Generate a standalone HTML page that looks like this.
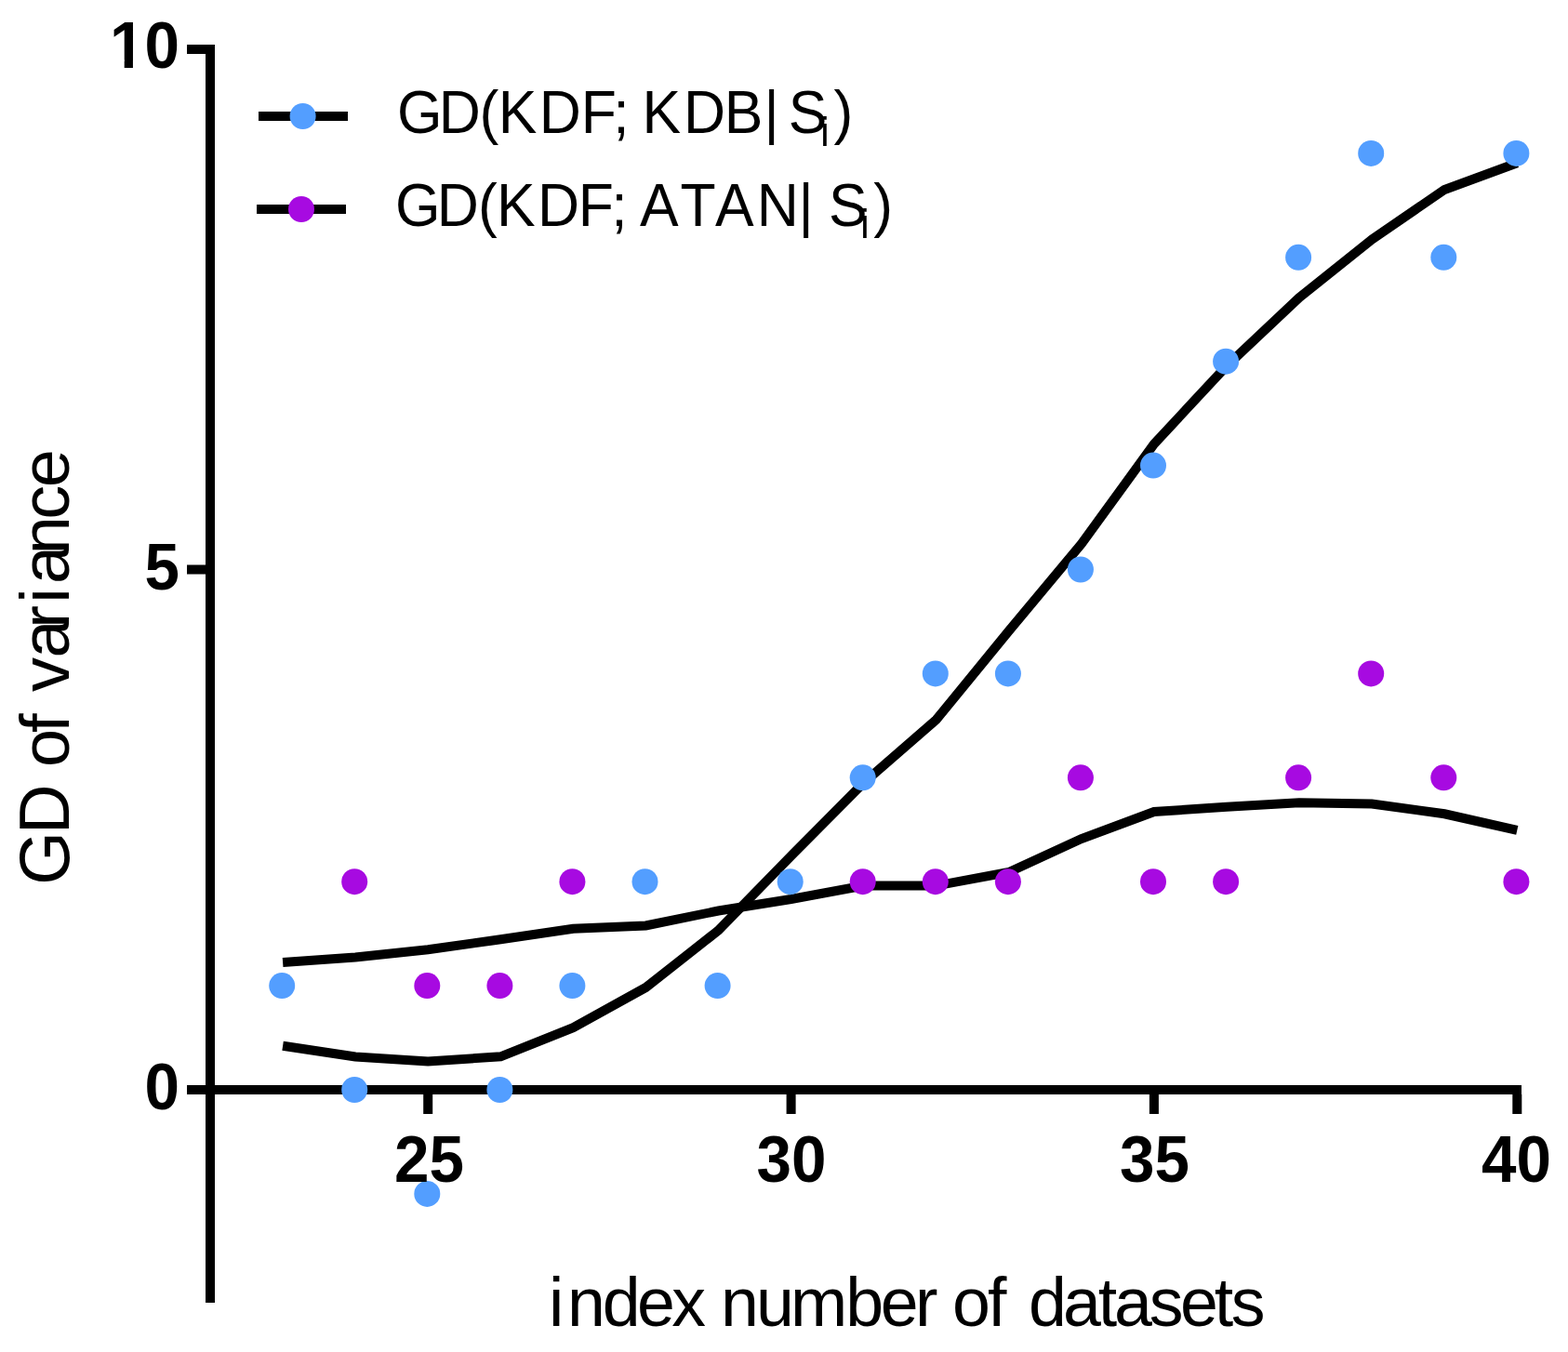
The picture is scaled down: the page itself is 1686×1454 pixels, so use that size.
<!DOCTYPE html>
<html><head><meta charset="utf-8"><title>GD of variance</title>
<style>html,body{margin:0;padding:0;background:#fff;}svg{display:block;}</style></head>
<body><svg width="1686" height="1454" viewBox="0 0 1686 1454">
<rect width="1686" height="1454" fill="#fff"/>
<polyline points="304.1,1124.8 382.1,1136.5 460.2,1141.6 538.3,1136.3 616.3,1105.2 694.4,1062.0 772.5,1000.5 850.6,920.4 928.6,842.0 1006.7,774.0 1084.8,678.5 1162.8,585.0 1240.9,477.5 1319.0,393.5 1397.0,320.0 1475.1,257.6 1553.2,204.0 1631.3,175.3" fill="none" stroke="#000" stroke-width="10" stroke-linejoin="miter"/>
<polyline points="304.1,1035.0 382.1,1029.4 460.2,1021.3 538.3,1010.3 616.3,998.8 694.4,995.4 772.5,979.5 850.6,967.0 928.6,952.5 1006.7,952.5 1084.8,938.0 1162.8,902.0 1240.9,873.0 1319.0,867.8 1397.0,863.3 1475.1,864.6 1553.2,875.3 1631.3,892.8" fill="none" stroke="#000" stroke-width="10" stroke-linejoin="miter"/>
<rect x="221" y="48" width="10" height="1353" fill="#000"/>
<rect x="221" y="1167" width="1415" height="10" fill="#000"/>
<rect x="201" y="48.0" width="20" height="10" fill="#000"/>
<rect x="201" y="607.5" width="20" height="10" fill="#000"/>
<rect x="201" y="1167.0" width="20" height="10" fill="#000"/>
<rect x="455.2" y="1177" width="10" height="21" fill="#000"/>
<rect x="845.6" y="1177" width="10" height="21" fill="#000"/>
<rect x="1235.9" y="1177" width="10" height="21" fill="#000"/>
<rect x="1626.3" y="1177" width="10" height="21" fill="#000"/>
<circle cx="381.2" cy="948.2" r="14" fill="#A70AE1"/>
<circle cx="459.3" cy="1060.1" r="14" fill="#A70AE1"/>
<circle cx="537.4" cy="1060.1" r="14" fill="#A70AE1"/>
<circle cx="615.4" cy="948.2" r="14" fill="#A70AE1"/>
<circle cx="927.7" cy="948.2" r="14" fill="#A70AE1"/>
<circle cx="1005.8" cy="948.2" r="14" fill="#A70AE1"/>
<circle cx="1083.9" cy="948.2" r="14" fill="#A70AE1"/>
<circle cx="1161.9" cy="836.3" r="14" fill="#A70AE1"/>
<circle cx="1240.0" cy="948.2" r="14" fill="#A70AE1"/>
<circle cx="1318.1" cy="948.2" r="14" fill="#A70AE1"/>
<circle cx="1396.1" cy="836.3" r="14" fill="#A70AE1"/>
<circle cx="1474.2" cy="724.4" r="14" fill="#A70AE1"/>
<circle cx="1552.3" cy="836.3" r="14" fill="#A70AE1"/>
<circle cx="1630.4" cy="948.2" r="14" fill="#A70AE1"/>
<circle cx="303.2" cy="1060.1" r="14" fill="#539EFF"/>
<circle cx="381.2" cy="1172.0" r="14" fill="#539EFF"/>
<circle cx="459.3" cy="1283.9" r="14" fill="#539EFF"/>
<circle cx="537.4" cy="1172.0" r="14" fill="#539EFF"/>
<circle cx="615.4" cy="1060.1" r="14" fill="#539EFF"/>
<circle cx="693.5" cy="948.2" r="14" fill="#539EFF"/>
<circle cx="771.6" cy="1060.1" r="14" fill="#539EFF"/>
<circle cx="849.7" cy="948.2" r="14" fill="#539EFF"/>
<circle cx="927.7" cy="836.3" r="14" fill="#539EFF"/>
<circle cx="1005.8" cy="724.4" r="14" fill="#539EFF"/>
<circle cx="1083.9" cy="724.4" r="14" fill="#539EFF"/>
<circle cx="1161.9" cy="612.5" r="14" fill="#539EFF"/>
<circle cx="1240.0" cy="500.6" r="14" fill="#539EFF"/>
<circle cx="1318.1" cy="388.7" r="14" fill="#539EFF"/>
<circle cx="1396.1" cy="276.8" r="14" fill="#539EFF"/>
<circle cx="1474.2" cy="164.9" r="14" fill="#539EFF"/>
<circle cx="1552.3" cy="276.8" r="14" fill="#539EFF"/>
<circle cx="1630.4" cy="164.9" r="14" fill="#539EFF"/>
<rect x="278" y="120" width="96" height="10" fill="#000"/>
<circle cx="325.6" cy="125" r="14" fill="#539EFF"/>
<rect x="276" y="220" width="96" height="10" fill="#000"/>
<circle cx="324" cy="225" r="14" fill="#A70AE1"/>
<defs><clipPath id="c1" clipPathUnits="userSpaceOnUse"><rect x="-200" y="-200" width="400" height="191.62"/><rect x="-62.42" y="-30" width="9.73" height="40"/><rect x="-39.48" y="-30" width="60" height="50"/></clipPath></defs>
<text transform="translate(193,73) scale(0.95,1)" clip-path="url(#c1)" text-anchor="end" font-family="'Liberation Sans', Arial, sans-serif" font-weight="bold" font-size="71">10</text>
<text transform="translate(193.0,634) scale(0.95,1)" text-anchor="end" font-family="'Liberation Sans', Arial, sans-serif" font-weight="bold" font-size="71">5</text>
<text transform="translate(193.0,1193) scale(0.95,1)" text-anchor="end" font-family="'Liberation Sans', Arial, sans-serif" font-weight="bold" font-size="71">0</text>
<text transform="translate(461.4,1271) scale(0.95,1)" text-anchor="middle" font-family="'Liberation Sans', Arial, sans-serif" font-weight="bold" font-size="71">25</text>
<text transform="translate(851.0,1271) scale(0.95,1)" text-anchor="middle" font-family="'Liberation Sans', Arial, sans-serif" font-weight="bold" font-size="71">30</text>
<text transform="translate(1241.5,1271) scale(0.95,1)" text-anchor="middle" font-family="'Liberation Sans', Arial, sans-serif" font-weight="bold" font-size="71">35</text>
<text transform="translate(1630.5,1271) scale(0.95,1)" text-anchor="middle" font-family="'Liberation Sans', Arial, sans-serif" font-weight="bold" font-size="71">40</text>
<text transform="translate(0,143) scale(0.96,1)" x="444.7 491.5 537.0 558.2 604.0 650.8 686.7 696.7 719.4 765.7 811.3 855.7 865.7 883.2" y="0" font-family="'Liberation Sans', Arial, sans-serif" font-size="65">GD(KDF; KDB| S</text>
<text transform="translate(0,157) scale(0.96,1)" x="919.0" y="0" font-family="'Liberation Sans', Arial, sans-serif" font-size="44">i</text>
<text transform="translate(0,143) scale(0.96,1)" x="933.8" y="0" font-family="'Liberation Sans', Arial, sans-serif" font-size="65">)</text>
<text transform="translate(0,243) scale(0.96,1)" x="442.6 489.4 535.5 556.2 602.1 647.7 684.6 694.6 716.6 761.9 801.0 847.7 894.3 904.3 928.2" y="0" font-family="'Liberation Sans', Arial, sans-serif" font-size="65">GD(KDF; ATAN| S</text>
<text transform="translate(0,256) scale(0.96,1)" x="963.8" y="0" font-family="'Liberation Sans', Arial, sans-serif" font-size="44">i</text>
<text transform="translate(0,243) scale(0.96,1)" x="978.5" y="0" font-family="'Liberation Sans', Arial, sans-serif" font-size="65">)</text>
<text x="589.9 610.1 647.8 684.9 722.3 734.3 775.0 813.1 850.0 909.3 946.8 984.0 996.0 1024.1 1062.0 1074.0 1105.9 1142.9 1180.8 1198.0 1235.8 1268.9 1305.8 1323.8" y="1426" font-family="'Liberation Sans', Arial, sans-serif" font-size="73.5">index number of datasets</text>
<text transform="translate(74,0) rotate(-90)" x="-824.9 -788.0 -776.0 -744.1 -707.6 -675.7 -648.7 -628.1 -596.2 -558.7 -524.3" y="0" font-family="'Liberation Sans', Arial, sans-serif" font-size="74">of variance</text>
<text transform="translate(74,0) rotate(-90) scale(1,1.037)" x="-951.7 -897.0" y="0" font-family="'Liberation Sans', Arial, sans-serif" font-size="74">GD</text>
</svg></body></html>
